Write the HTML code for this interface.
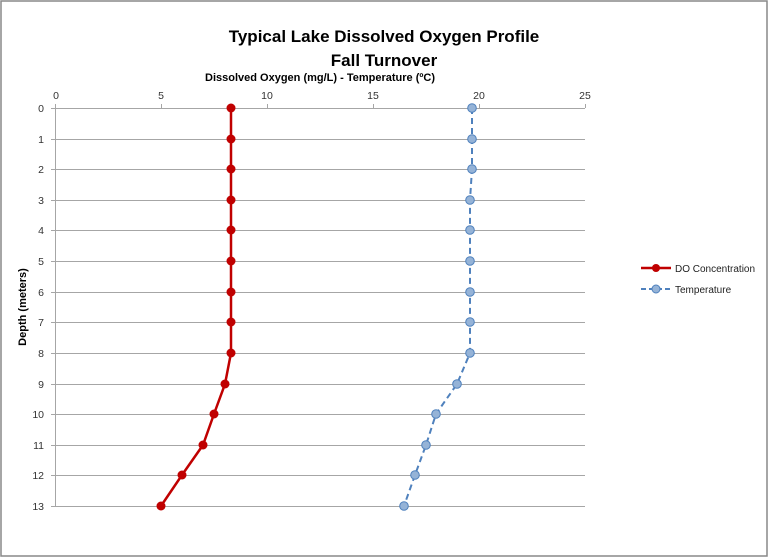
<!DOCTYPE html>
<html><head><style>body{margin:0;background:#fff}svg{display:block}</style></head><body>
<svg width="768" height="557" xmlns="http://www.w3.org/2000/svg" font-family="Liberation Sans, sans-serif">
<rect x="1" y="1" width="766" height="555" fill="#fff" stroke="#888" stroke-width="1.5"/>
<text x="384" y="42" text-anchor="middle" font-size="17" font-weight="bold">Typical Lake Dissolved Oxygen Profile</text>
<text x="384" y="66" text-anchor="middle" font-size="17" font-weight="bold">Fall Turnover</text>
<text x="320" y="81" text-anchor="middle" font-size="11" font-weight="bold">Dissolved Oxygen (mg/L) - Temperature (ºC)</text>
<text transform="translate(26,307) rotate(-90)" text-anchor="middle" font-size="11" font-weight="bold">Depth (meters)</text>
<g stroke="#a6a6a6" stroke-width="1">
<line x1="55" y1="108.5" x2="585" y2="108.5"/><line x1="55" y1="139.5" x2="585" y2="139.5"/><line x1="55" y1="169.5" x2="585" y2="169.5"/><line x1="55" y1="200.5" x2="585" y2="200.5"/><line x1="55" y1="230.5" x2="585" y2="230.5"/><line x1="55" y1="261.5" x2="585" y2="261.5"/><line x1="55" y1="292.5" x2="585" y2="292.5"/><line x1="55" y1="322.5" x2="585" y2="322.5"/><line x1="55" y1="353.5" x2="585" y2="353.5"/><line x1="55" y1="384.5" x2="585" y2="384.5"/><line x1="55" y1="414.5" x2="585" y2="414.5"/><line x1="55" y1="445.5" x2="585" y2="445.5"/><line x1="55" y1="475.5" x2="585" y2="475.5"/><line x1="55" y1="506.5" x2="585" y2="506.5"/>
<line x1="55.5" y1="104" x2="55.5" y2="506"/>
<line x1="161.5" y1="104" x2="161.5" y2="108"/><line x1="267.5" y1="104" x2="267.5" y2="108"/><line x1="373.5" y1="104" x2="373.5" y2="108"/><line x1="479.5" y1="104" x2="479.5" y2="108"/><line x1="585.5" y1="104" x2="585.5" y2="108"/>
<line x1="51" y1="108.5" x2="55" y2="108.5"/><line x1="51" y1="139.5" x2="55" y2="139.5"/><line x1="51" y1="169.5" x2="55" y2="169.5"/><line x1="51" y1="200.5" x2="55" y2="200.5"/><line x1="51" y1="230.5" x2="55" y2="230.5"/><line x1="51" y1="261.5" x2="55" y2="261.5"/><line x1="51" y1="292.5" x2="55" y2="292.5"/><line x1="51" y1="322.5" x2="55" y2="322.5"/><line x1="51" y1="353.5" x2="55" y2="353.5"/><line x1="51" y1="384.5" x2="55" y2="384.5"/><line x1="51" y1="414.5" x2="55" y2="414.5"/><line x1="51" y1="445.5" x2="55" y2="445.5"/><line x1="51" y1="475.5" x2="55" y2="475.5"/><line x1="51" y1="506.5" x2="55" y2="506.5"/>
</g>
<g font-size="10.5" fill="#333" text-anchor="middle">
<text x="56" y="99">0</text><text x="161" y="99">5</text><text x="267" y="99">10</text><text x="373" y="99">15</text><text x="479" y="99">20</text><text x="585" y="99">25</text>
</g>
<g font-size="10.5" fill="#333" text-anchor="end">
<text x="44" y="112">0</text><text x="44" y="143">1</text><text x="44" y="173">2</text><text x="44" y="204">3</text><text x="44" y="234">4</text><text x="44" y="265">5</text><text x="44" y="296">6</text><text x="44" y="326">7</text><text x="44" y="357">8</text><text x="44" y="388">9</text><text x="44" y="418">10</text><text x="44" y="449">11</text><text x="44" y="479">12</text><text x="44" y="510">13</text>
</g>
<polyline fill="none" stroke="#c00000" stroke-width="2.5" points="231,108 231,139 231,169 231,200 231,230 231,261 231,292 231,322 231,353 225,384 214,414 203,445 182,475 161,506"/>
<g fill="#c00000">
<circle cx="231" cy="108" r="4.5"/><circle cx="231" cy="139" r="4.5"/><circle cx="231" cy="169" r="4.5"/><circle cx="231" cy="200" r="4.5"/><circle cx="231" cy="230" r="4.5"/><circle cx="231" cy="261" r="4.5"/><circle cx="231" cy="292" r="4.5"/><circle cx="231" cy="322" r="4.5"/><circle cx="231" cy="353" r="4.5"/><circle cx="225" cy="384" r="4.5"/><circle cx="214" cy="414" r="4.5"/><circle cx="203" cy="445" r="4.5"/><circle cx="182" cy="475" r="4.5"/><circle cx="161" cy="506" r="4.5"/>
</g>
<polyline fill="none" stroke="#4f81bd" stroke-width="2" stroke-dasharray="6,4" points="472,108 472,139 472,169 470,200 470,230 470,261 470,292 470,322 470,353 457,384 436,414 426,445 415,475 404,506"/>
<g fill="#95b3d7" stroke="#4f81bd" stroke-width="1">
<circle cx="472" cy="108" r="4.3"/><circle cx="472" cy="139" r="4.3"/><circle cx="472" cy="169" r="4.3"/><circle cx="470" cy="200" r="4.3"/><circle cx="470" cy="230" r="4.3"/><circle cx="470" cy="261" r="4.3"/><circle cx="470" cy="292" r="4.3"/><circle cx="470" cy="322" r="4.3"/><circle cx="470" cy="353" r="4.3"/><circle cx="457" cy="384" r="4.3"/><circle cx="436" cy="414" r="4.3"/><circle cx="426" cy="445" r="4.3"/><circle cx="415" cy="475" r="4.3"/><circle cx="404" cy="506" r="4.3"/>
</g>
<line x1="641" y1="268" x2="671" y2="268" stroke="#c00000" stroke-width="2.5"/>
<circle cx="656" cy="268" r="4" fill="#c00000"/>
<text x="675" y="272" font-size="10" fill="#222">DO Concentration</text>
<line x1="641" y1="289" x2="671" y2="289" stroke="#4f81bd" stroke-width="2" stroke-dasharray="5,3"/>
<circle cx="656" cy="289" r="4" fill="#95b3d7" stroke="#4f81bd"/>
<text x="675" y="293" font-size="10" fill="#222">Temperature</text>
</svg>
</body></html>
